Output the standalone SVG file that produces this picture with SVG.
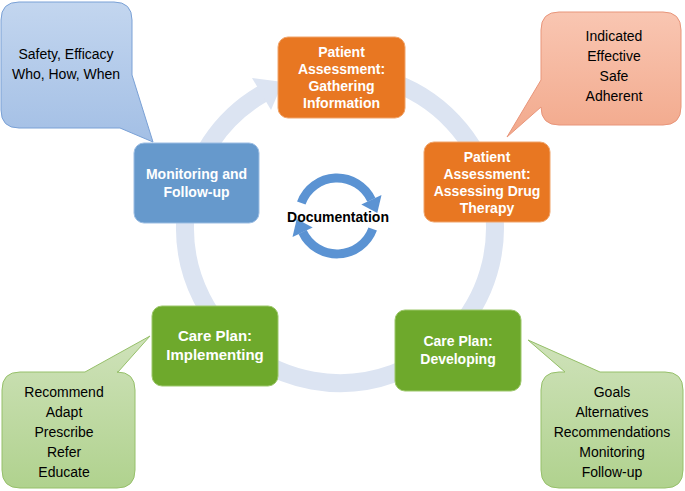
<svg xmlns="http://www.w3.org/2000/svg" width="685" height="491" viewBox="0 0 685 491">
<defs>
<linearGradient id="gb" x1="0" y1="0" x2="0" y2="1"><stop offset="0" stop-color="#c3d6ef"/><stop offset="1" stop-color="#a3bfe5"/></linearGradient>
<linearGradient id="go" x1="0" y1="0" x2="0" y2="1"><stop offset="0" stop-color="#f9c6b2"/><stop offset="1" stop-color="#f2a98c"/></linearGradient>
<linearGradient id="gg" x1="0" y1="0" x2="0" y2="1"><stop offset="0" stop-color="#cfe2ba"/><stop offset="1" stop-color="#b0d28e"/></linearGradient>
<style>
.n{font-family:"Liberation Sans",Arial,sans-serif;font-weight:bold;font-size:14px;fill:#fff;text-anchor:middle}
.c{font-family:"Liberation Sans",Arial,sans-serif;font-size:14px;fill:#000;text-anchor:middle}
.or{fill:#e87722;stroke:#f0a46a;stroke-width:1}
.gr{fill:#6ea92c;stroke:#9cc76a;stroke-width:1}
.bl{fill:#6699cc;stroke:#9bbde3;stroke-width:1}
</style>
</defs>
<g id="connectors">
<path d="M313.1 75.4 A155 155 0 1 1 262.5 93.8" fill="none" stroke="#dce4f2" stroke-width="18"/>
<polygon points="283,82 252,78 271,110" fill="#dce4f2"/>
</g>
<g id="documentation">
<path d="M301.3 203 A38 38 0 0 1 371.4 199.9" fill="none" stroke="#5b93d3" stroke-width="9"/>
<polygon points="377.3,213 381.5,195 361.3,204.5" fill="#5b93d3"/>
<path d="M372.7 229 A38 38 0 0 1 302.6 232" fill="none" stroke="#5b93d3" stroke-width="9"/>
<polygon points="296.7,219 292.5,237 312.7,227.5" fill="#5b93d3"/>
<text class="n" x="338" y="222" style="fill:#000">Documentation</text>
</g>
<g id="gathering"><rect class="or" x="278" y="37" width="127" height="81" rx="10"/>
<text class="n" x="341.5" y="57">Patient</text><text class="n" x="341.5" y="74">Assessment:</text><text class="n" x="341.5" y="91">Gathering</text><text class="n" x="341.5" y="108">Information</text></g>
<g id="assessing"><rect class="or" x="424" y="142" width="126" height="80" rx="10"/>
<text class="n" x="487" y="162">Patient</text><text class="n" x="487" y="179">Assessment:</text><text class="n" x="487" y="196">Assessing Drug</text><text class="n" x="487" y="213">Therapy</text></g>
<g id="developing"><rect class="gr" x="395" y="310" width="126" height="81" rx="10"/>
<text class="n" x="458" y="346">Care Plan:</text><text class="n" x="458" y="364">Developing</text></g>
<g id="implementing"><rect class="gr" x="152" y="306" width="126" height="80" rx="10"/>
<text class="n" x="215" y="341" style="font-size:15px">Care Plan:</text><text class="n" x="215" y="360" style="font-size:15px">Implementing</text></g>
<g id="monitoring"><rect class="bl" x="134" y="143" width="125" height="80" rx="10"/>
<text class="n" x="196.5" y="179">Monitoring and</text><text class="n" x="196.5" y="197">Follow-up</text></g>
<g id="callout-monitoring">
<path d="M19 2 H114 Q132 2 132 20 V75 L153 142 L120 128 H19 Q1 128 1 110 V20 Q1 2 19 2 Z" fill="url(#gb)" stroke="#7aa1d6"/>
<text class="c" x="66" y="59">Safety, Efficacy</text><text class="c" x="66" y="79">Who, How, When</text></g>
<g id="callout-assessing">
<path d="M559 12 H663 Q681 12 681 30 V107 Q681 125 663 125 H559 Q541 125 541 107 L507 137 L541 80 V30 Q541 12 559 12 Z" fill="url(#go)" stroke="#e8957a"/>
<text class="c" x="614" y="41">Indicated</text><text class="c" x="614" y="61">Effective</text><text class="c" x="614" y="81">Safe</text><text class="c" x="614" y="101">Adherent</text></g>
<g id="callout-developing">
<path d="M559 372 H600 L528 340 L565 372 H559 Z" fill="url(#gg)"/>
<path d="M559 372 H565 L528 340 L600 372 H665 Q683 372 683 390 V470 Q683 488 665 488 H559 Q541 488 541 470 V390 Q541 372 559 372 Z" fill="url(#gg)" stroke="#96c06a"/>
<text class="c" x="612" y="397">Goals</text><text class="c" x="612" y="417">Alternatives</text><text class="c" x="612" y="437">Recommendations</text><text class="c" x="612" y="457">Monitoring</text><text class="c" x="612" y="477">Follow-up</text></g>
<g id="callout-implementing">
<path d="M20 372 H85 L150 336 L118 372 H117 Q135 372 135 390 V470 Q135 488 117 488 H20 Q2 488 2 470 V390 Q2 372 20 372 Z" fill="url(#gg)" stroke="#96c06a"/>
<text class="c" x="64" y="397">Recommend</text><text class="c" x="64" y="417">Adapt</text><text class="c" x="64" y="437">Prescribe</text><text class="c" x="64" y="457">Refer</text><text class="c" x="64" y="477">Educate</text></g>
</svg>
